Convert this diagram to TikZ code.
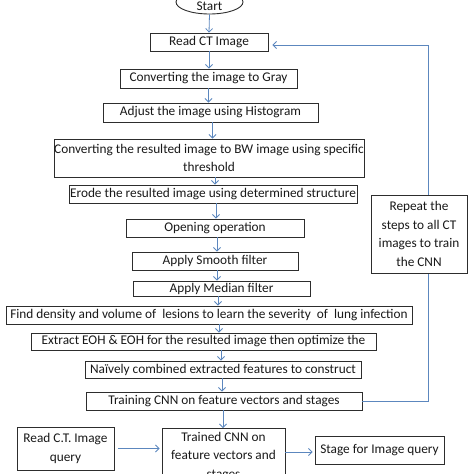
\documentclass[tikz,border=0pt]{standalone}
\usepackage{fontspec}
\setmainfont{Carlito}
\usetikzlibrary{arrows.meta,shapes.geometric}
\definecolor{arrblue}{RGB}{92,135,190}
\definecolor{boxline}{RGB}{45,45,45}
\begin{document}
\begin{tikzpicture}[x=1pt,y=-1pt,
  box/.style={draw=boxline,line width=0.9pt,fill=white,inner sep=0pt,align=center,
    font=\fontsize{13.3}{18.5}\selectfont,text=black!90},
  arr/.style={draw=arrblue,line width=0.8pt,-{Straight Barb[length=3.5pt,width=7pt]}}]
\useasboundingbox (0,0) rectangle (474,474);
\clip (0,0) rectangle (474,474);
% nodes
\node[box,ellipse,minimum width=67pt,minimum height=24pt] (start) at (209.5,2) {\raisebox{-8pt}[0pt][0pt]{Start}};
\node[box,minimum width=118pt,minimum height=18pt] (read) at (209,42) {Read CT Image};
\node[box,minimum width=177pt,minimum height=19pt] (gray) at (208.5,78.5) {Converting the image to Gray};
\node[box,minimum width=215pt,minimum height=19pt] (hist) at (210.5,112.5) {Adjust the image using Histogram};
\node[box,minimum width=310pt,minimum height=38pt] (bw) at (209,158) {Converting the resulted image to BW image using specific\\threshold};
\node[box,minimum width=288pt,minimum height=18pt] (erode) at (213,194) {Erode the resulted image using determined structure};
\node[box,minimum width=178pt,minimum height=18pt] (open) at (215,228) {Opening operation};
\node[box,minimum width=166pt,minimum height=18pt] (smooth) at (215,261) {Apply Smooth filter};
\node[box,minimum width=177pt,minimum height=15pt] (median) at (221.5,288.5) {Apply Median filter};
\node[box,minimum width=406pt,minimum height=18pt] (find) at (209,315) {Find density and volume of~ lesions to learn the severity~ of~ lung infection};
\node[box,minimum width=345pt,minimum height=17pt] (eoh) at (203.5,341.5) {Extract EOH \& EOH for the resulted image then optimize the};
\node[box,minimum width=276pt,minimum height=17pt] (naive) at (223,369.5) {Naïvely combined extracted features to construct};
\node[box,minimum width=276pt,minimum height=18pt] (train) at (224,401) {Training CNN on feature vectors and stages};
\node[box,minimum width=97pt,minimum height=43pt] (query) at (65.5,448.5) {Read C.T. Image\\query};
\node[box,minimum width=123pt,minimum height=56pt,anchor=north] (trained) at (223.5,428) {Trained CNN on\\feature vectors and\\stages};
\node[box,minimum width=129pt,minimum height=28pt] (stage) at (379.5,450) {Stage for Image query};
% feedback loop
\coordinate (fb) at (428,45);
\draw[arr] (train.east) -| (fb) -- ([xshift=4pt,yshift=-3pt]read.east);
\node[box,minimum width=96pt,minimum height=78pt] (repeat) at (419,234) {Repeat the\\steps to all CT\\images to train\\the CNN};
% main chain arrows
\draw[arr] (start.south) -- (read.north);
\draw[arr] (read.south) -- (gray.north -| read.south);
\draw[arr] (gray.south) -- (hist.north -| gray.south);
\draw[arr] ([xshift=2pt]hist.south) coordinate (c1) -- (c1 |- bw.north);
\draw[arr] ([xshift=6pt]bw.south) coordinate (c2) -- (c2 |- erode.north);
\draw[arr] ([xshift=3pt]erode.south) coordinate (c3) -- (c3 |- open.north);
\draw[arr] ([xshift=2pt]open.south) coordinate (c4) -- (c4 |- smooth.north);
\draw[arr] ([xshift=2pt]smooth.south) coordinate (c5) -- (c5 |- median.north);
\draw[arr] ([xshift=-3.5pt]median.south) coordinate (c6) -- (c6 |- find.north);
\draw[arr] ([xshift=10pt]find.south) coordinate (c7) -- (c7 |- eoh.north);
\draw[arr] ([xshift=17.5pt]eoh.south) coordinate (c8) -- (c8 |- naive.north);
\draw[arr] ([xshift=-1pt]naive.south) coordinate (c9) -- (c9 |- train.north);
\draw[arr] ([xshift=-1pt]train.south) coordinate (c10) -- (c10 |- trained.north);
\draw[arr] ([xshift=4pt]query.east) coordinate (c11) -- ([xshift=-2pt]trained.west |- c11);
\draw[arr] ([yshift=-2pt]trained.east |- stage.west) coordinate (c12) -- ([xshift=-2pt]stage.west |- c12);
\end{tikzpicture}
\end{document}
